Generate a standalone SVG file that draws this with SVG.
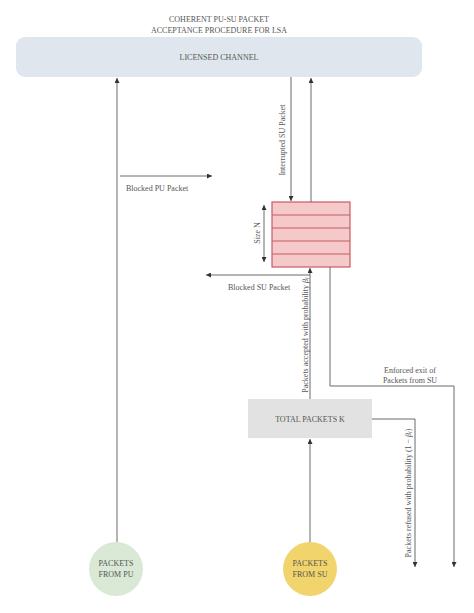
<svg xmlns="http://www.w3.org/2000/svg" width="474" height="613" viewBox="0 0 474 613">
<style>
text{font-family:"Liberation Serif","DejaVu Serif",serif;font-size:8px;fill:#555}
.c{text-anchor:middle}
.ln{fill:none;stroke:#6a6a6a;stroke-width:1}
.q{fill:#f5c9c9;stroke:#c85a62;stroke-width:1.2}
</style>
<defs>
<marker id="ah" viewBox="0 0 10 10" refX="10" refY="5" markerWidth="5" markerHeight="5" orient="auto-start-reverse" markerUnits="userSpaceOnUse">
<path d="M0,0 L10,5 L0,10 z" fill="#333"/>
</marker>
</defs>
<rect width="474" height="613" fill="#fff"/>
<g id="title">
<text class="c" x="219" y="22">COHERENT PU-SU PACKET</text>
<text class="c" x="219" y="33">ACCEPTANCE PROCEDURE FOR LSA</text>
</g>
<g id="licensed-channel">
<rect x="16" y="37" width="406" height="40" rx="9" fill="#dfe6ed"/>
<text class="c" x="219" y="60">LICENSED CHANNEL</text>
</g>
<g id="queue">
<rect class="q" x="272" y="202" width="78" height="65"/>
<line class="q" x1="272" y1="215" x2="350" y2="215"/>
<line class="q" x1="272" y1="228" x2="350" y2="228"/>
<line class="q" x1="272" y1="241" x2="350" y2="241"/>
<line class="q" x1="272" y1="254" x2="350" y2="254"/>
</g>
<g id="total-packets">
<rect x="248" y="399" width="124" height="39" fill="#e2e2e2"/>
<text class="c" x="310" y="422">TOTAL PACKETS K</text>
</g>
<g id="packets-from-pu">
<circle cx="116" cy="569" r="27" fill="#d9e9d6"/>
<text class="c" x="116" y="566">PACKETS</text>
<text class="c" x="116" y="577">FROM PU</text>
</g>
<g id="packets-from-su">
<circle cx="310" cy="569" r="27" fill="#f2d46c"/>
<text class="c" x="310" y="566">PACKETS</text>
<text class="c" x="310" y="577">FROM SU</text>
</g>
<g id="connectors">
<line class="ln" x1="117" y1="542" x2="117" y2="78" marker-end="url(#ah)"/>
<line class="ln" x1="291" y1="77" x2="291" y2="201" marker-end="url(#ah)"/>
<line class="ln" x1="311" y1="202" x2="311" y2="78" marker-end="url(#ah)"/>
<line class="ln" x1="120" y1="176" x2="212" y2="176" marker-end="url(#ah)"/>
<line class="ln" x1="264" y1="205" x2="264" y2="262" marker-start="url(#ah)" marker-end="url(#ah)"/>
<line class="ln" x1="310" y1="275" x2="206" y2="275" marker-end="url(#ah)"/>
<line class="ln" x1="310" y1="399" x2="310" y2="268" marker-end="url(#ah)"/>
<polyline class="ln" points="330,267 330,386 454,386 454,567" marker-end="url(#ah)"/>
<polyline class="ln" points="372,419 415,419 415,567" marker-end="url(#ah)"/>
<line class="ln" x1="310" y1="542" x2="310" y2="439" marker-end="url(#ah)"/>
</g>
<g id="labels">
<text x="126" y="191">Blocked PU Packet</text>
<text x="228" y="290">Blocked SU Packet</text>
<text class="c" transform="translate(285,140) rotate(-90)">Interrupted SU Packet</text>
<text class="c" transform="translate(260,233) rotate(-90)">Size N</text>
<text class="c" transform="translate(308,335) rotate(-90)">Packets accepted with probability <tspan font-style="italic">β<tspan font-size="6" dy="1">i</tspan></tspan></text>
<text class="c" transform="translate(411,493) rotate(-90)">Packets refused with probability (1 − <tspan font-style="italic">β<tspan font-size="6" dy="1">i</tspan></tspan><tspan dy="-1">)</tspan></text>
<text class="c" x="410" y="373">Enforced exit of</text>
<text class="c" x="410" y="383">Packets from SU</text>
</g>
</svg>
